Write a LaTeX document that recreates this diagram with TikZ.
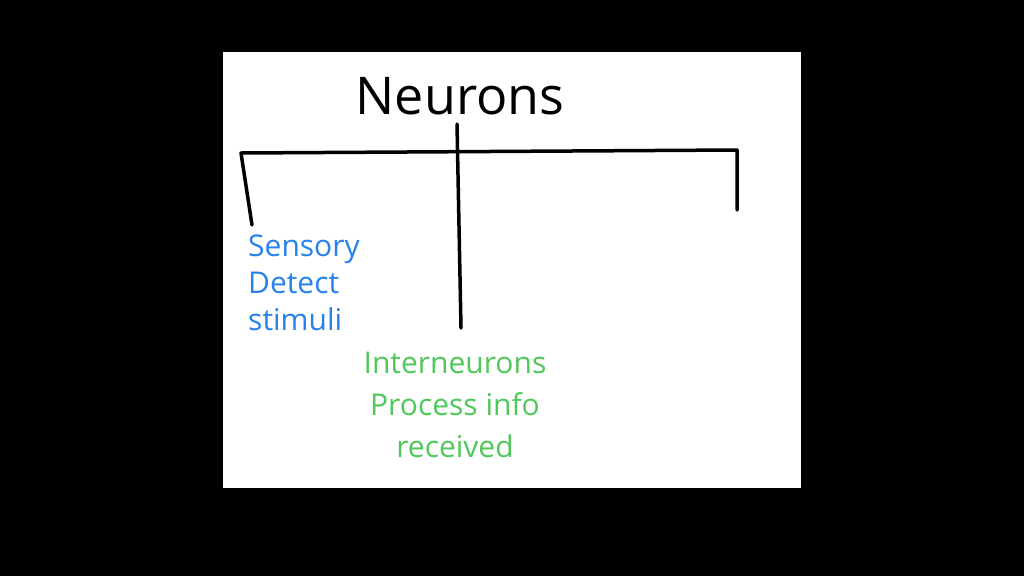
\documentclass[tikz,border=0pt]{standalone}
\usepackage{fontspec}
\setmainfont{Open Sans}
\definecolor{penblue}{RGB}{40,130,235}
\definecolor{pengreen}{RGB}{80,200,90}
\begin{document}
\begin{tikzpicture}[x=1pt,y=-1pt,
  pen/.style={line width=3.5pt,line cap=round,line join=round},
  bluetxt/.style={text=penblue,font=\fontsize{30}{37}\selectfont,align=left,inner sep=0pt},
  greentxt/.style={text=pengreen,font=\fontsize{30}{42}\selectfont,align=center,inner sep=0pt}]
\fill[black] (0,0) rectangle (1024,576);
\fill[white] (223,52) rectangle (801,488);
\useasboundingbox (0,0) rectangle (1024,576);
\node[font=\fontsize{52}{60}\selectfont,inner sep=0pt] (title) at (460,96) {Neurons};
\coordinate (tl) at (241,153);
\coordinate (tr) at (737,150);
\coordinate (top) at (457,124);
\coordinate (l) at (252,225);
\coordinate (m) at (461,328);
\coordinate (r) at (737,210);
\draw[pen] (l) -- (tl) -- (tr) -- (r);
\draw[pen] (top) -- (m);
\node[bluetxt,anchor=north west] (sens) at (248,235) {Sensory\\Detect\\stimuli};
\node[greentxt] (inter) at (455,405) {Interneurons\\Process info\\received};
\end{tikzpicture}
\end{document}
